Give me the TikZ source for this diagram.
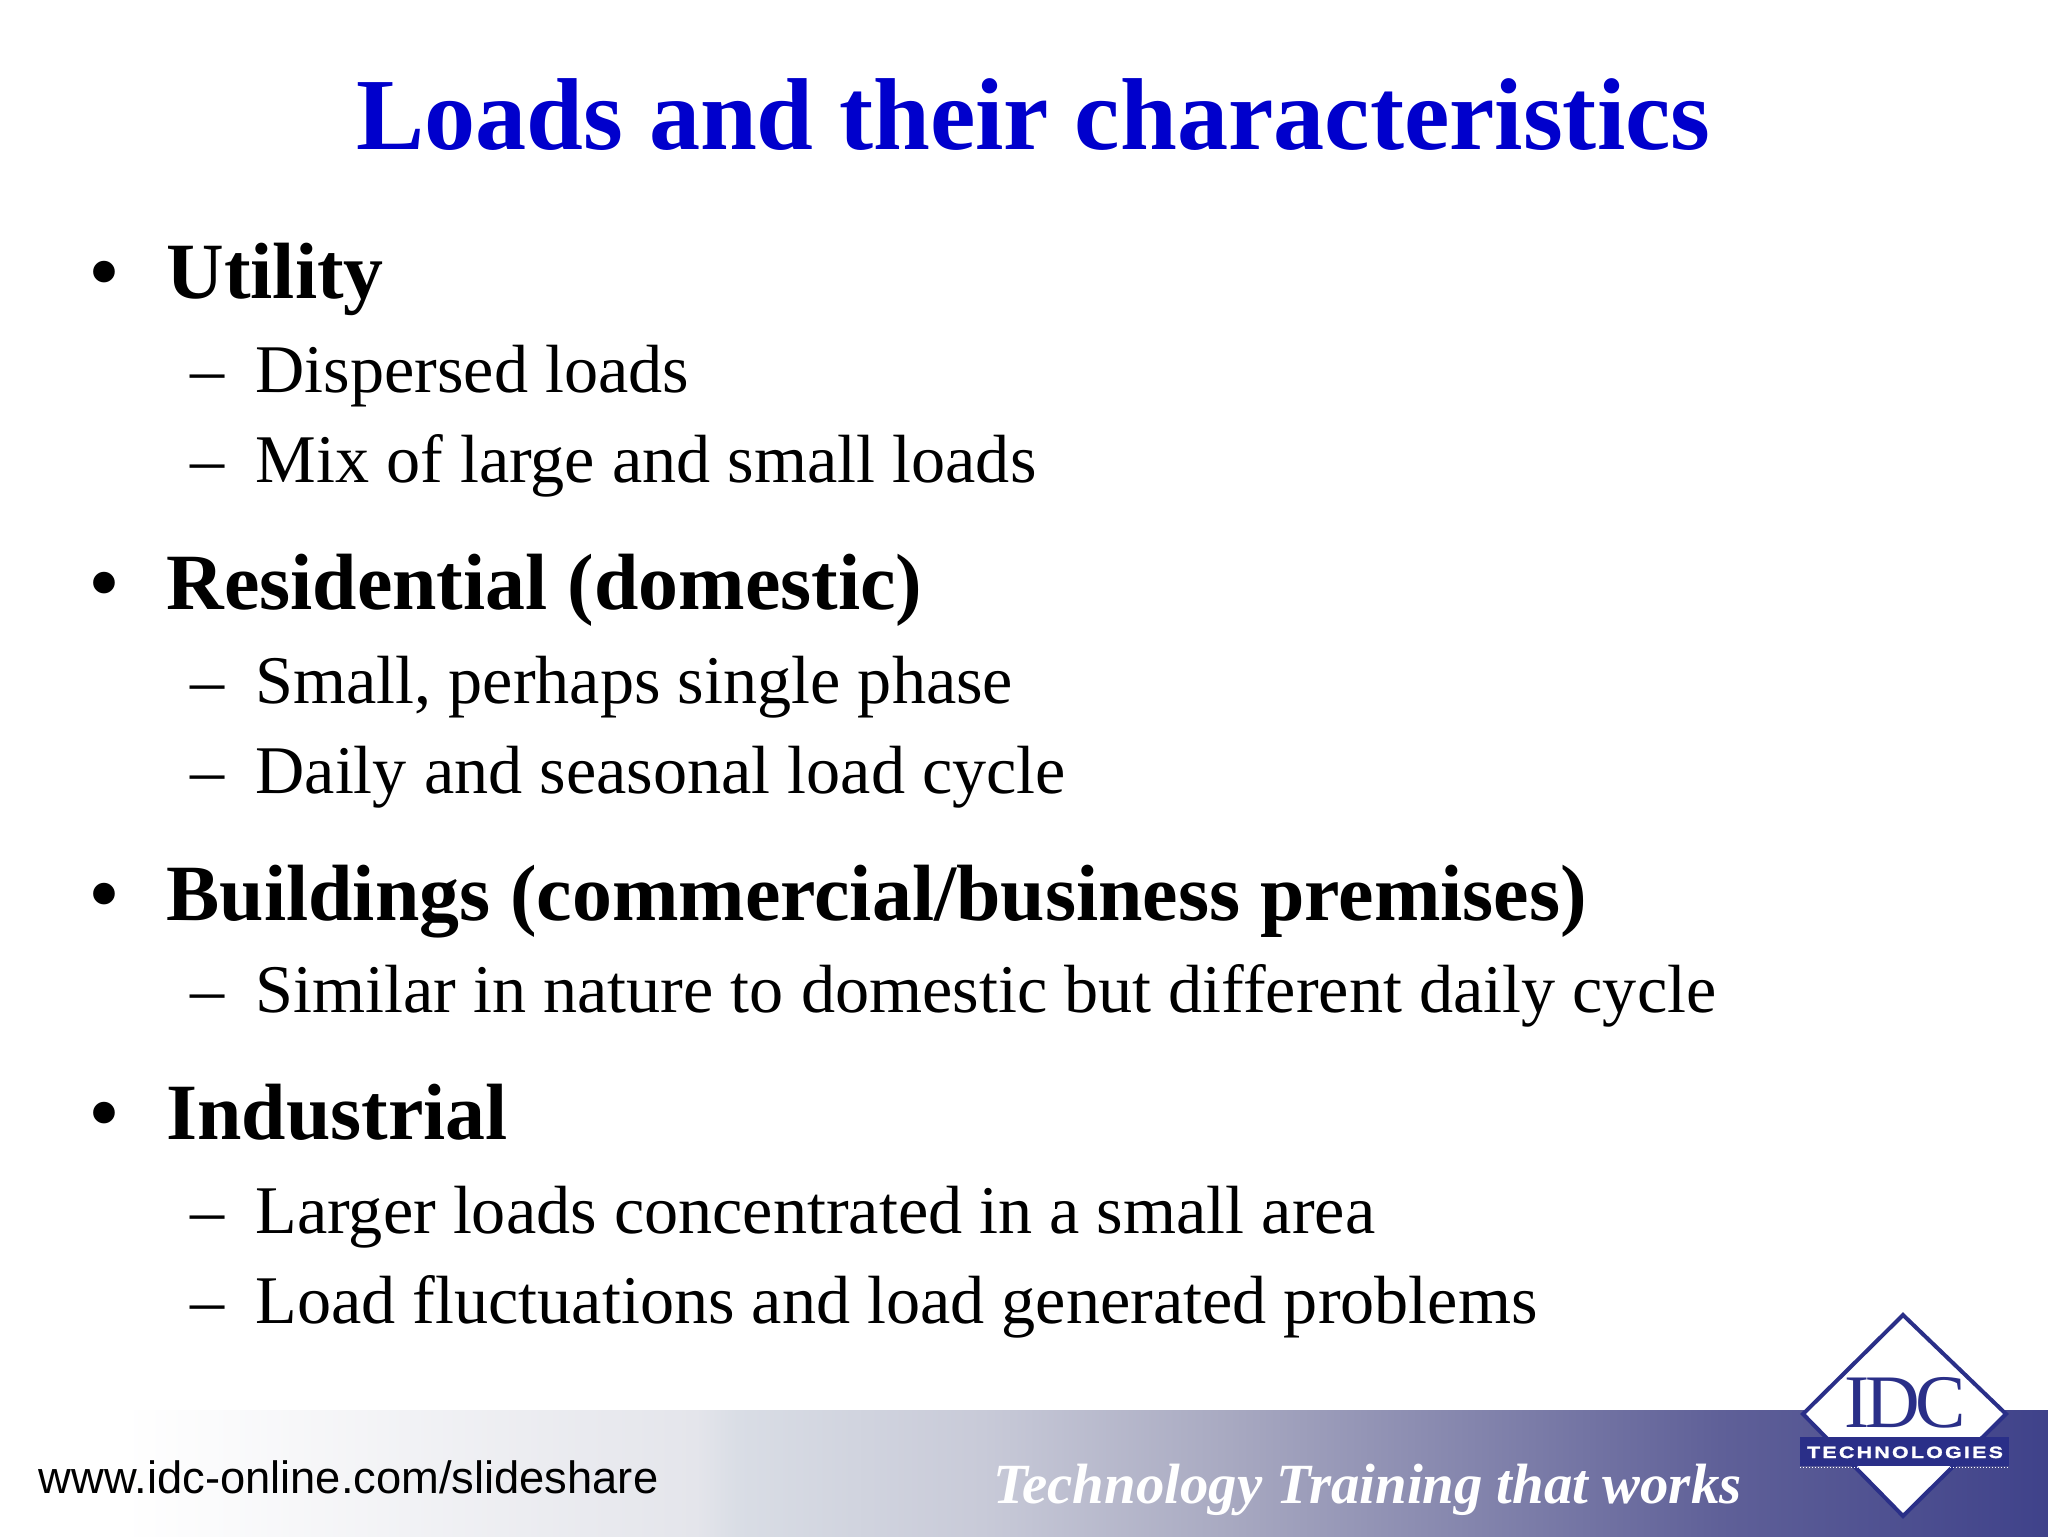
\documentclass[tikz,border=0pt]{standalone}
\usepackage{fontspec}
\setmainfont{Liberation Serif}
\newfontfamily\urlfont{Liberation Sans}
\newfontfamily\logofont[LetterSpace=14,FakeStretch=1.3,FakeBold=1.5]{Liberation Sans}
\newfontfamily\idcfont[LetterSpace=-6]{Liberation Serif}
\definecolor{titleblue}{HTML}{0000CC}
\definecolor{logoblue}{HTML}{2A2F88}
\definecolor{bandA}{HTML}{E4E5EB}
\definecolor{bandB}{HTML}{D9DDE5}
\definecolor{bandC}{HTML}{C8CAD8}
\definecolor{bandD}{HTML}{A8A9C1}
\definecolor{bandE}{HTML}{5F6098}
\definecolor{bandF}{HTML}{3F428A}
\pgfdeclarehorizontalshading{bandshade}{100bp}{
  color(0bp)=(white); color(28bp)=(white); color(42bp)=(bandA);
  color(43bp)=(bandB); color(49bp)=(bandC); color(55bp)=(bandD);
  color(67bp)=(bandE); color(75bp)=(bandF); color(100bp)=(bandF)}
\tikzset{
  linetext/.style={anchor=base west, inner sep=0pt, outer sep=0pt},
  titletext/.style={linetext, text=titleblue, font=\fontsize{51.1}{56}\selectfont\bfseries},
  headtext/.style={linetext, font=\fontsize{39.9}{44}\selectfont\bfseries},
  subtext/.style={linetext, font=\fontsize{34.1}{38}\selectfont},
}
\begin{document}
\begin{tikzpicture}

  \newcommand\X{0.5pt}
  \newcommand\Y{-0.5pt}

  \useasboundingbox[fill=white] (0*\X, 0*\Y) rectangle (2048*\X, 1536*\Y);

  \shade[shading=bandshade] (0*\X, 1410*\Y) rectangle (2048*\X, 1536*\Y);

  \node[titletext] (title) at (356.5*\X, 149*\Y) {Loads and their characteristics};

  \node[headtext] (markA) at (90*\X, 298.5*\Y) {•};
  \node[headtext] (headA) at (166.5*\X, 298.5*\Y) {Utility};
  \node[subtext] (dashAa) at (190.5*\X, 392.5*\Y) {–};
  \node[subtext] (subAa) at (255.5*\X, 392.5*\Y) {Dispersed loads};
  \node[subtext] (dashAb) at (190.5*\X, 482.5*\Y) {–};
  \node[subtext] (subAb) at (255.5*\X, 482.5*\Y) {Mix of large and small loads};

  \node[headtext] (markB) at (90*\X, 609*\Y) {•};
  \node[headtext] (headB) at (166.5*\X, 609*\Y) {Residential (domestic)};
  \node[subtext] (dashBa) at (190.5*\X, 703*\Y) {–};
  \node[subtext] (subBa) at (255.5*\X, 703*\Y) {Small, perhaps single phase};
  \node[subtext] (dashBb) at (190.5*\X, 793*\Y) {–};
  \node[subtext] (subBb) at (255.5*\X, 793*\Y) {Daily and seasonal load cycle};

  \node[headtext] (markC) at (90*\X, 920*\Y) {•};
  \node[headtext] (headC) at (166.5*\X, 920*\Y) {Buildings (commercial/business premises)};
  \node[subtext] (dashCa) at (190.5*\X, 1012*\Y) {–};
  \node[subtext] (subCa) at (255.5*\X, 1012*\Y) {Similar in nature to domestic but different daily cycle};

  \node[headtext] (markD) at (90*\X, 1139*\Y) {•};
  \node[headtext] (headD) at (166.5*\X, 1139*\Y) {Industrial};
  \node[subtext] (dashDa) at (190.5*\X, 1233*\Y) {–};
  \node[subtext] (subDa) at (255.5*\X, 1233*\Y) {Larger loads concentrated in a small area};
  \node[subtext] (dashDb) at (190.5*\X, 1323*\Y) {–};
  \node[subtext] (subDb) at (255.5*\X, 1323*\Y) {Load fluctuations and load generated problems};

  %% footer
  \node[linetext, font=\fontsize{22.65}{26}\selectfont\urlfont] (url) at (39*\X, 1493*\Y) {www.idc-online.com/slideshare};
  \node[linetext, text=white, font=\fontsize{28.4}{32}\selectfont\bfseries\itshape] (slogan) at (993*\X, 1503*\Y) {Technology Training that works};

  %% logo
  \draw[fill=white, draw=logoblue, line width=2pt, line join=miter] (1903*\X, 1315*\Y) -- (2006*\X, 1414*\Y) -- (1903*\X, 1516*\Y) -- (1803*\X, 1414*\Y) -- cycle;
  \fill[logoblue] (1800*\X, 1437*\Y) rectangle (2009*\X, 1466*\Y);
  \draw[white, densely dotted, line width=0.5pt] (1800*\X, 1467*\Y) -- (2009*\X, 1467*\Y);
  \node[linetext, anchor=base, text=logoblue, font=\fontsize{37.8}{40}\selectfont\idcfont] (idc) at (1905*\X, 1427*\Y) {IDC};
  \node[linetext, anchor=base, text=white, font=\fontsize{8.2}{10}\selectfont\bfseries\logofont] (tech) at (1905*\X, 1458*\Y) {TECHNOLOGIES};
\end{tikzpicture}
\end{document}
